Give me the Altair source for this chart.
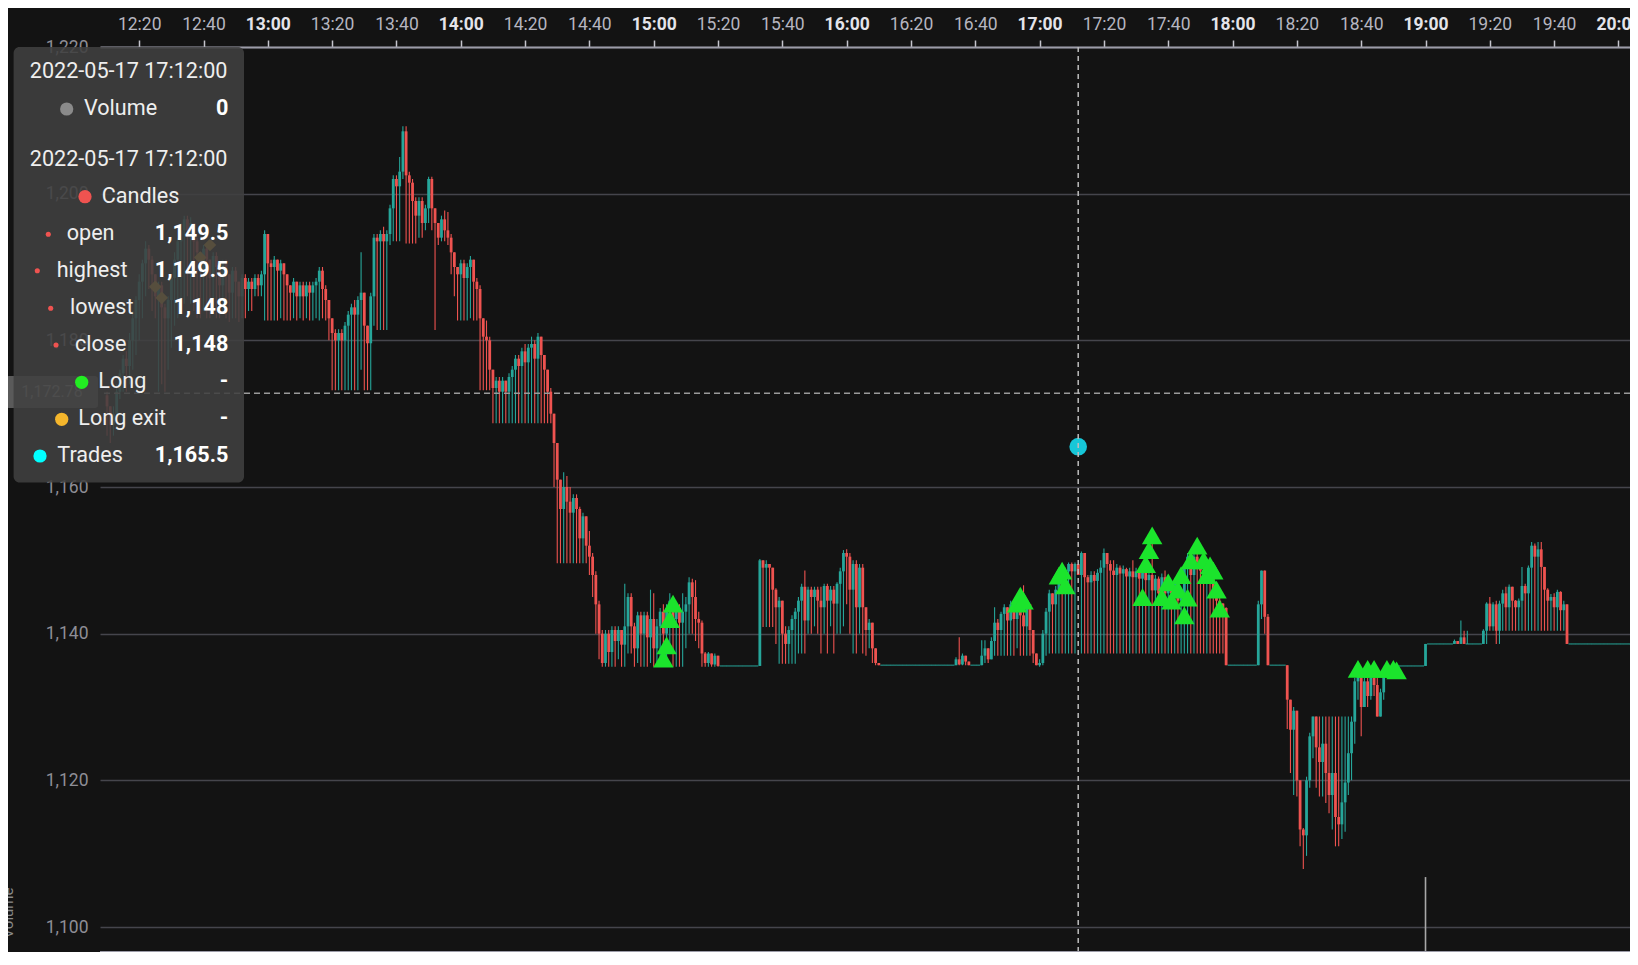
import altair as alt
import pandas as pd

# ------------------------------------------------------------------ data
DAY = "2022-05-17"
START = "12:10"
FIRST_OPEN = 1172.5

# closes / wick lows / wick highs, one value per minute
C12 = [1171, 1168.5, 1170, 1173, 1175.5, 1177.5, 1176.5, 1180, 1183, 1185.5,
       1188, 1190.5, 1192.5, 1191, 1189, 1186, 1187.5, 1184.5, 1183, 1185.5,
       1188.5, 1191, 1193.5, 1195, 1196.5, 1195, 1196, 1193.5, 1192, 1189.5,
       1192.5, 1191, 1188.5, 1191.5, 1190, 1187.5, 1190.5, 1189, 1186.5, 1189.5,
       1188, 1186, 1188.5, 1187, 1188, 1187, 1188.5, 1187.5, 1189, 1194.5]
L12 = [1167, 1166, 1167, 1169, 1172, 1173, 1173, 1174, 1176, 1178,
       1180, 1183, 1186, 1187, 1184, 1183, 1173, 1174, 1173, 1176,
       1179, 1182, 1183, 1184, 1185, 1186, 1185, 1184, 1183, 1183,
       1184, 1183, 1183, 1184, 1183, 1183, 1184, 1183, 1182.5, 1183,
       1183, 1182.5, 1183, 1183, 1184, 1184, 1186, 1186, 1186, 1182.7]
H12 = [1173, 1171, 1171, 1174, 1176, 1178, 1178.5, 1181, 1184, 1186,
       1189, 1191, 1193.5, 1193, 1191.5, 1189, 1188, 1188, 1185, 1186,
       1189, 1192, 1194, 1196, 1197, 1197, 1196.8, 1196, 1194, 1192,
       1193, 1193, 1191, 1192, 1192, 1190, 1191, 1191, 1189, 1190,
       1190, 1188, 1189, 1189, 1188.5, 1188.5, 1189, 1189, 1189.5, 1195]

C13 = [1190.5, 1190, 1191, 1189.5, 1190.5, 1189, 1187.5, 1186.5, 1188, 1186,
       1187.5, 1186, 1187.5, 1186.5, 1187.5, 1188, 1189.5, 1187, 1185.5, 1183,
       1181, 1180, 1181, 1180, 1182, 1183.5, 1184.5, 1183.5, 1185.5, 1186.5,
       1182, 1179.6, 1186, 1194, 1193.5, 1194.5, 1193.5, 1194.5, 1198, 1202,
       1201, 1203, 1208.5, 1202.5, 1201.5, 1199, 1197, 1199, 1196, 1198,
       1202, 1198, 1196, 1194, 1196.5, 1195, 1194, 1192, 1190, 1189]
L13 = [1182.7, 1182.7, 1182.7, 1182.7, 1183, 1182.7, 1182.7, 1182.7, 1183, 1182.7,
       1183, 1182.7, 1183, 1182.7, 1182.7, 1183, 1182.7, 1183, 1182.7, 1180,
       1173.2, 1173.2, 1173.2, 1173.2, 1173.2, 1173.2, 1173.2, 1173.2, 1173.2, 1176,
       1173.2, 1173.2, 1173.2, 1182, 1181.4, 1181.4, 1181.4, 1181.4, 1193, 1193.5,
       1193.5, 1193.5, 1202, 1193.2, 1193.2, 1193.2, 1193.2, 1194, 1194, 1195,
       1196, 1195, 1181.4, 1193, 1193.5, 1193.5, 1193, 1189, 1186, 1182.7]
H13 = [1194, 1191, 1191.5, 1191, 1191, 1190.5, 1189, 1187.5, 1188.5, 1188,
       1188, 1188, 1188, 1188, 1188, 1188.5, 1190, 1190, 1187.5, 1185.5,
       1183, 1181.5, 1181.5, 1181.5, 1182.5, 1184, 1185, 1185.5, 1186, 1192,
       1186.5, 1182, 1186.5, 1194.5, 1194.5, 1195, 1195.5, 1195, 1198.5, 1202.5,
       1202.5, 1205, 1209.2, 1209.2, 1203, 1202, 1199.5, 1199.5, 1199.5, 1198.5,
       1202.3, 1202.3, 1198, 1196, 1197, 1197.7, 1197.5, 1194.5, 1192, 1190]

C14 = [1190.5, 1188.5, 1190, 1191, 1188, 1187, 1183, 1180.5, 1180, 1176,
       1173.5, 1174.5, 1173, 1174.5, 1173, 1175, 1176, 1177.5, 1176.5, 1178.5,
       1177, 1179, 1179.5, 1177.5, 1180.5, 1178, 1176, 1173, 1170, 1166,
       1161, 1157, 1160, 1158, 1156.5, 1158.5, 1157, 1153, 1156, 1152,
       1150.5, 1148, 1144, 1140, 1136, 1140, 1137.5, 1140.5, 1139, 1140.5,
       1138.5, 1141, 1145, 1141, 1138, 1142.5, 1140, 1142.5, 1139.5, 1142]
L14 = [1182.7, 1182.7, 1182.7, 1183, 1182.7, 1182.7, 1173.2, 1173.2, 1173.2, 1173.2,
       1168.7, 1168.7, 1168.7, 1168.7, 1168.7, 1168.7, 1168.7, 1168.7, 1168.7, 1168.7,
       1168.7, 1168.7, 1168.7, 1168.7, 1168.7, 1168.7, 1168.7, 1168.7, 1168.7, 1160,
       1149.6, 1149.6, 1149.6, 1149.6, 1149.6, 1149.6, 1149.6, 1149.6, 1149.6, 1149.6,
       1148, 1145, 1140, 1136.5, 1135.5, 1135.5, 1135.5, 1135.5, 1135.5, 1136.5,
       1135.5, 1135.5, 1137.3, 1137.3, 1135.5, 1136, 1135.5, 1135.5, 1135.5, 1136]
H14 = [1191, 1191, 1190.5, 1191.5, 1191, 1188.5, 1187.5, 1183, 1182.7, 1180.5,
       1176, 1175, 1175, 1175, 1174.5, 1175.5, 1176.5, 1178, 1178, 1179,
       1179.5, 1179.5, 1180.5, 1180, 1181, 1180.5, 1178, 1176, 1173.5, 1170,
       1166, 1161, 1162, 1161.5, 1160, 1159, 1159, 1157.3, 1156.5, 1156,
       1154, 1151, 1148.5, 1144.5, 1140.5, 1140.5, 1140.5, 1141, 1141, 1141,
       1140.5, 1146.8, 1145.5, 1145.5, 1141.5, 1143, 1143, 1143, 1143, 1146]

C15 = ([1138, 1141, 1143, 1140, 1143.5, 1144.5, 1142, 1143.5, 1141.5, 1143,
        1144, 1147, 1145, 1142, 1141.5, 1137.3, 1136, 1137.3, 1135.8, 1137,
        1135.6] + [1135.6] * 12 +
       [1150, 1149, 1149.5, 1149, 1146, 1143.6, 1144.5, 1140,
        1138.6, 1140.5, 1142, 1143, 1144.5, 1146.4, 1141.8, 1146, 1145, 1146,
        1144.5, 1143.6, 1146.5, 1144.5, 1146, 1144.1, 1146.8, 1148.5, 1151])
L15 = ([1135.5, 1135.5, 1135.5, 1135.5, 1135.5, 1138, 1135.5, 1135.5, 1135.5, 1135.5,
        1138, 1140, 1140, 1139, 1138, 1135.5, 1135.5, 1135.5, 1135.5, 1135.5,
        1135.5] + [1135.6] * 12 +
       [1135.6, 1140.9, 1140.9, 1140.9, 1140.9, 1138.6, 1135.9, 1135.9,
        1135.9, 1135.9, 1135.9, 1135.9, 1137.3, 1137.3, 1137.3, 1140, 1140, 1141,
        1140, 1137.3, 1140, 1137.3, 1141, 1137.3, 1140, 1140, 1141])
H15 = ([1145.5, 1142, 1143.5, 1144, 1144, 1145.5, 1145, 1144, 1144, 1145.5,
        1145, 1147.7, 1147.5, 1147.3, 1143, 1141.8, 1137.5, 1137.5, 1137.3, 1137.3,
        1137] + [1135.6] * 12 +
       [1150.2, 1150, 1150, 1149.5, 1149, 1146.2, 1145, 1144.5,
        1141, 1141, 1142.5, 1143.5, 1145, 1146.8, 1148.6, 1146.4, 1146.4, 1146.4,
        1146.4, 1146.4, 1146.8, 1146.8, 1146.5, 1146.5, 1147, 1149, 1151.4])

C16 = ([1150.5, 1146, 1149.5, 1143.6, 1149, 1143.6, 1140.5, 1141.5, 1138, 1136,
        1135.7] + [1135.7] * 23 +
       [1136.5, 1135.8, 1137, 1136.2, 1135.7, 1135.7, 1135.7, 1135.7, 1137, 1138,
        1136.5, 1139, 1141.5, 1140.5, 1142.7, 1143.6, 1141.8, 1144, 1142, 1144.5,
        1142.5, 1141, 1144, 1140.5, 1137.3, 1135.7])
L16 = ([1144, 1140, 1137.3, 1137.3, 1140, 1137.3, 1137, 1138, 1136, 1135.7,
        1135.7] + [1135.7] * 23 +
       [1135.7, 1135.7, 1135.7, 1135.7, 1135.7, 1135.7, 1135.7, 1135.7, 1135.7, 1136,
        1136, 1136.5, 1137, 1137, 1137, 1137, 1137, 1137, 1137, 1138,
        1137, 1137, 1137, 1137, 1136, 1135.7])
H16 = ([1151.5, 1151, 1150, 1150, 1149.5, 1149.5, 1143, 1142, 1141.5, 1138,
        1136] + [1135.7] * 23 +
       [1136.8, 1139.5, 1137.3, 1137, 1136.2, 1135.7, 1135.7, 1135.7, 1139.1, 1139.1,
        1138, 1139.5, 1143.6, 1142, 1143, 1144, 1143.6, 1144.5, 1144.5, 1145,
        1144.5, 1146.6, 1144.5, 1144, 1140.5, 1137.3])

C17 = [1136, 1140, 1143, 1145.5, 1144, 1146, 1147.5, 1146.5, 1148.5, 1149.5,
       1148.5, 1149.5, 1148, 1151, 1147.7, 1147, 1148, 1147.2, 1148.3, 1149,
       1151, 1149.5, 1148.6, 1148, 1149, 1148.2, 1148.8, 1147.8, 1148.5, 1147.7,
       1148.5, 1147.5, 1148.5, 1147.3, 1148, 1145.9, 1147.5, 1145.5, 1147.7, 1145.5,
       1147, 1145.5, 1147, 1144.5, 1145.5, 1149, 1150.5, 1148, 1150.5, 1149.8,
       1148.6, 1148.2, 1148.8, 1147.5, 1146, 1144.5, 1144.1, 1143.5, 1135.7, 1135.7]
L17 = ([1135.5, 1135.7, 1137, 1137.3, 1137.3, 1137.3, 1137.3, 1137.3, 1137.3, 1137.3,
        1137.3, 1137.3, 1148, 1137.3, 1137.3, 1137.3, 1137.3, 1137.3, 1137.3, 1137.3]
       + [1137.3] * 38 + [1135.7, 1135.7])
H17 = [1136.5, 1140.5, 1143.5, 1146, 1145.5, 1146.5, 1148, 1148.2, 1149, 1149.7,
       1149.7, 1149.7, 1149.5, 1151.2, 1151, 1148, 1148.5, 1148.5, 1148.8, 1150,
       1151.6, 1151, 1150, 1150, 1149.5, 1149.3, 1149.3, 1149, 1149, 1150,
       1149, 1148.8, 1149, 1148.8, 1148.5, 1152.5, 1148, 1147.8, 1148.2, 1148.6,
       1147.5, 1147.3, 1147.5, 1147.3, 1146, 1149.5, 1151, 1151, 1151, 1151,
       1150, 1149.5, 1149.3, 1149, 1147.7, 1146.5, 1145, 1144.2, 1143.6, 1135.7]

C18 = ([1135.7] * 8 + [1144, 1148.6, 1142.3, 1135.7] + [1135.7] * 5 +
       [1131, 1126.9, 1129.5, 1120, 1113.3, 1112.5, 1120, 1126, 1128.7,
        1124.5, 1122.5, 1125, 1121, 1118, 1121, 1115, 1114, 1117, 1119.7,
        1123.7, 1128, 1133.5, 1134.5, 1130, 1133.5, 1131.5, 1134, 1133, 1128.7,
        1132, 1134.5, 1135, 1134.5, 1135.2, 1135.6] + [1135.6] * 8)
L18 = ([1135.7] * 8 + [1137.3, 1142, 1140, 1135.7] + [1135.7] * 5 +
       [1127, 1121, 1118, 1117.8, 1111, 1107.9, 1109.7, 1119, 1123,
        1119, 1117.8, 1117.8, 1116.9, 1115.5, 1113.3, 1111, 1111, 1112, 1113,
        1118, 1120, 1125, 1131, 1126, 1130, 1130, 1131, 1131.5, 1128.7,
        1128.7, 1131, 1134, 1134, 1134.5, 1135] + [1135.6] * 8)
H18 = ([1135.7] * 8 + [1144.5, 1148.6, 1148.6, 1142.7] + [1135.7] * 5 +
       [1135.7, 1131, 1130, 1129.5, 1120, 1113.5, 1120.5, 1126.5, 1128.7,
        1128.7, 1128.7, 1128.7, 1128.7, 1128.7, 1128.7, 1128.7, 1128.7, 1128.7, 1128.7,
        1128.7, 1128.7, 1134, 1136, 1134.5, 1134, 1134.5, 1134.5, 1134, 1134,
        1132.5, 1135, 1135.5, 1135.2, 1135.6, 1136] + [1135.6] * 8)

C19 = ([1138.6] + [1138.6] * 8 + [1139, 1138.6, 1139.5, 1138.6, 1138.6] + [1138.6] * 4 +
       [1140.4, 1144.1, 1141, 1144, 1140.4, 1144.1, 1145.5, 1143.6, 1146.4, 1144.5,
        1143.6, 1144.5, 1146.5, 1145.5, 1149, 1152, 1150.5, 1151.5, 1149.1, 1146,
        1144.5, 1145, 1143.6, 1145.7, 1143.2, 1144, 1138.6] + [1138.6] * 20)
L19 = ([1135.6] + [1138.6] * 8 + [1138.6] * 5 + [1138.6] * 4 +
       [1138.6, 1138.6, 1140.4, 1140.4, 1138.6, 1138.6, 1140.4, 1140.4, 1140.4, 1140.4,
        1140.4, 1140.4, 1140.4, 1140.4, 1140.4, 1140.4, 1140.4, 1140.4, 1140.4, 1140.4,
        1140.4, 1140.4, 1140.4, 1140.4, 1140.4, 1140.4, 1138.6] + [1138.6] * 20)
H19 = ([1138.6] + [1138.6] * 8 + [1139.2, 1139, 1141.8, 1140.4, 1140.4] + [1138.6] * 4 +
       [1140.6, 1144.3, 1145, 1144.3, 1144.5, 1144.5, 1146, 1146.4, 1146.7, 1146.4,
        1144.6, 1144.8, 1149.1, 1146.8, 1149.3, 1152.5, 1152.3, 1152.5, 1152.5, 1149,
        1146.2, 1145.4, 1145.5, 1146, 1145.8, 1144.5, 1144] + [1138.6] * 20)

LONG_T = ["15:03", "15:04", "15:05", "15:06",
          "16:53", "16:54", "16:55",
          "17:06", "17:07", "17:08",
          "17:32", "17:33", "17:34", "17:35",
          "17:38", "17:40", "17:41", "17:43", "17:44", "17:45", "17:46",
          "17:47", "17:49", "17:51", "17:52", "17:53", "17:54", "17:55", "17:56",
          "18:39", "18:42", "18:44", "18:48", "18:50", "18:51"]
LONG_P = [1136.6, 1138.4, 1142.0, 1144.1,
          1144.1, 1145.2, 1144.5,
          1147.9, 1148.6, 1146.6,
          1145.0, 1149.5, 1151.4, 1153.4,
          1145.0, 1147.0, 1144.5, 1146.0, 1148.0, 1142.5, 1144.9,
          1150.0, 1152.0, 1150.0, 1148.0, 1149.3, 1148.6, 1146.0, 1143.4,
          1135.2, 1135.2, 1135.2, 1135.2, 1135.2, 1135.0]
EXIT_T = ["12:25", "12:27", "12:39", "12:42"]
EXIT_P = [1187.3, 1185.8, 1191.3, 1193.0]
TRADE_T = ["17:12"]
TRADE_P = [1165.5]
VOL_T = ["19:00"]
VOL_V = [414]
CROSS_T = "17:12"
CROSS_P = 1172.78

X_TICKS = ["12:20", "12:40", "13:00", "13:20", "13:40", "14:00", "14:20", "14:40",
           "15:00", "15:20", "15:40", "16:00", "16:20", "16:40", "17:00", "17:20",
           "17:40", "18:00", "18:20", "18:40", "19:00", "19:20", "19:40", "20:00"]
Y_TICKS = [1100, 1120, 1140, 1160, 1180, 1200, 1220]

TIP_TIME = "2022-05-17 17:12:00"
TIP_NAMES = ["Volume", "Candles", "open", "highest", "lowest", "close", "Long", "Long exit", "Trades"]
TIP_VALUES = ["0", "", "1,149.5", "1,149.5", "1,148", "1,148", "-", "-", "1,165.5"]

# ------------------------------------------------------------------ style / layout
BG = "#131313"
TEAL = "#26a69a"
RED = "#ef5350"
GREEN = "#1be42c"
ORANGE = "#f1b02f"
CYAN = "#16c7d8"
FONT = "Roboto"

PLOT_W, PLOT_H = 1530, 905
PX_PER_UNIT = 7.3335
Y_DOMAIN = [1220 - PLOT_H / PX_PER_UNIT, 1220]

TIP_DOT_X = [-33.3, -15, -51.7, -62.7, -49.3, -44, -18.3, -38.3, -60]
TIP_TXT_X = [-16, 1.7, -33.3, -43.3, -30, -25, -1.7, -21.7, -42.7]
TIP_Y = [62, 149.7, 187.3, 223.7, 261.3, 298, 335.3, 372.3, 409]
TIP_DOT_SIZE = [175, 175, 26, 26, 26, 26, 175, 175, 175]
TIP_DOT_COLOR = ["#8a8a8a", RED, RED, RED, RED, RED, "#22ee22", "#f5b62c", "#00ffff"]
TIP_FONT_SIZE = 21.6


# ------------------------------------------------------------------ build table
def ts(hhmm):
    return f"{DAY}T{hhmm}:00"


closes = C12 + C13 + C14 + C15 + C16 + C17 + C18 + C19
lows = L12 + L13 + L14 + L15 + L16 + L17 + L18 + L19
highs = H12 + H13 + H14 + H15 + H16 + H17 + H18 + H19
times = pd.date_range(f"{DAY} {START}", periods=len(closes), freq="min")
opens = [FIRST_OPEN] + closes[:-1]
rows = []
for t, o, h, l, c in zip(times, opens, highs, lows, closes):
    rows.append(dict(t=t.strftime("%Y-%m-%dT%H:%M:%S"), open=o, close=c,
                     high=max(o, c, h), low=min(o, c, l),
                     dir="up" if c >= o else "down"))
candles = pd.DataFrame(rows)

long_df = pd.DataFrame({"t": [ts(x) for x in LONG_T], "p": LONG_P})
exit_df = pd.DataFrame({"t": [ts(x) for x in EXIT_T], "p": EXIT_P})
trade_df = pd.DataFrame({"t": [ts(x) for x in TRADE_T], "p": TRADE_P})
vol_df = pd.DataFrame({"t": [ts(x) for x in VOL_T], "v": VOL_V})
cross_df = pd.DataFrame({"t": [ts(CROSS_T)], "p": [CROSS_P]})
ONE = pd.DataFrame({"k": [0]})


def dt(hhmm, sec=0):
    h, m = hhmm.split(":")
    return alt.DateTime(year=2022, month=5, date=17, hours=int(h), minutes=int(m), seconds=sec)


is_hour = "minutes(datum.value) === 0"
xscale = alt.Scale(domain=[dt("12:09", 22), dt("20:02", 2)])
xaxis = alt.Axis(orient="top", values=[dt(x) for x in X_TICKS], format="%H:%M",
                 labelFont=FONT, labelFontSize=17.5,
                 labelColor={"condition": {"test": is_hour, "value": "#e4e4ea"}, "value": "#b6b6c0"},
                 labelFontWeight={"condition": {"test": is_hour, "value": "bold"}, "value": "normal"},
                 labelPadding=7, labelOverlap=False, labelFlush=False,
                 tickColor="#c4c4cc", tickSize=7, tickWidth=1.5,
                 domainColor="#9c9ca8", domainWidth=2, grid=False, title=None)
yscale = alt.Scale(domain=Y_DOMAIN, nice=False, zero=False)
yaxis = alt.Axis(values=Y_TICKS, format=",.0f", labelFont=FONT, labelFontSize=17.5,
                 labelColor="#8e8e96", labelPadding=12, tickSize=0, domain=False,
                 grid=True, gridColor="#45454c", gridWidth=1.3, title=None)

X = alt.X("t:T", scale=xscale, axis=xaxis, title=None)


def Y(f):
    return alt.Y(f, scale=yscale, axis=yaxis, title=None)


col = alt.Color("dir:N", scale=alt.Scale(domain=["up", "down"], range=[TEAL, RED]), legend=None)

base = alt.Chart(candles)
wicks = base.mark_rule(strokeWidth=1.1).encode(x=X, y=Y("low:Q"), y2="high:Q", color=col)
bodies = base.mark_rule(strokeWidth=2.8).encode(x=X, y=Y("open:Q"), y2="close:Q", color=col)
doji = base.transform_filter("datum.open == datum.close").mark_tick(
    orient="horizontal", thickness=1.4, size=3.4).encode(x=X, y=Y("close:Q"), color=col)

longs = alt.Chart(long_df).mark_point(shape="triangle-up", filled=True, size=420,
                                      color=GREEN, opacity=1).encode(x=X, y=Y("p:Q"))
exits = alt.Chart(exit_df).mark_point(shape="diamond", filled=True, size=160,
                                      color=ORANGE, opacity=1).encode(x=X, y=Y("p:Q"))
trade = alt.Chart(trade_df).mark_circle(size=310, color=CYAN, opacity=1).encode(x=X, y=Y("p:Q"))
vline = alt.Chart(cross_df).mark_rule(color="#bdbdbd", strokeWidth=1.5,
                                      strokeDash=[5, 4]).encode(x=X)
hline = alt.Chart(cross_df).mark_rule(color="#9a9a9a", strokeWidth=1.5,
                                      strokeDash=[6, 4]).encode(y=Y("p:Q"))
bottom = alt.Chart(ONE).mark_rule(color="#9c9ca8", strokeWidth=2).encode(
    x=alt.value(0), x2=alt.value(PLOT_W), y=alt.value(PLOT_H))

main = alt.layer(wicks, bodies, doji, longs, exits, trade, hline, vline)

vol = alt.Chart(vol_df).mark_bar(size=1.6, color="#a8a8a8").encode(
    x=X, y=alt.Y("v:Q", scale=alt.Scale(domain=[0, 5000]), axis=None))


def text(s, x, y, size=TIP_FONT_SIZE, weight="normal", align="left", color="#eeeeee", angle=0,
         base_="middle"):
    return alt.Chart(ONE).mark_text(fontSize=size, fontWeight=weight, align=align, baseline=base_,
                                    color=color, font=FONT, angle=angle).encode(
        x=alt.value(x), y=alt.value(y), text=alt.value(s))


def box(x1, x2, y1, y2, fill, opacity, radius):
    return alt.Chart(ONE).mark_rect(color=fill, opacity=opacity, cornerRadius=radius).encode(
        x=alt.value(x1), x2=alt.value(x2), y=alt.value(y1), y2=alt.value(y2))


overlay = [
    box(-94, -2, 329, 361, "#5a5a5a", 1, 3),
    text(f"{CROSS_P:,.2f}", -48, 345, size=16, align="center", color="#a9a9a9"),
    text("Volume", -87, 866, size=15, angle=270, color="#8a8a8a", align="center", base_="alphabetic"),
    box(-86.4, 144, 0, 435.6, "#404040", 0.88, 6),
    text(TIP_TIME, 28.6, 25.3, align="center"),
    text(TIP_TIME, 28.6, 113, align="center"),
]
for i, name in enumerate(TIP_NAMES):
    overlay.append(alt.Chart(ONE).mark_circle(size=TIP_DOT_SIZE[i], color=TIP_DOT_COLOR[i], opacity=1)
                   .encode(x=alt.value(TIP_DOT_X[i]), y=alt.value(TIP_Y[i])))
    overlay.append(text(name, TIP_TXT_X[i], TIP_Y[i]))
    if TIP_VALUES[i]:
        overlay.append(text(TIP_VALUES[i], 128.3, TIP_Y[i], weight="bold", align="right", color="#ffffff"))

chart = alt.layer(main, vol, bottom, *overlay).resolve_scale(y="independent").properties(
    width=PLOT_W, height=PLOT_H,
    autosize=alt.AutoSizeParams(type="none"),
    padding={"left": 92, "top": 39, "right": 0, "bottom": 0},
    background=BG,
).configure_view(stroke=None)

chart.save("out.html", embed_options={"renderer": "svg", "actions": False})
